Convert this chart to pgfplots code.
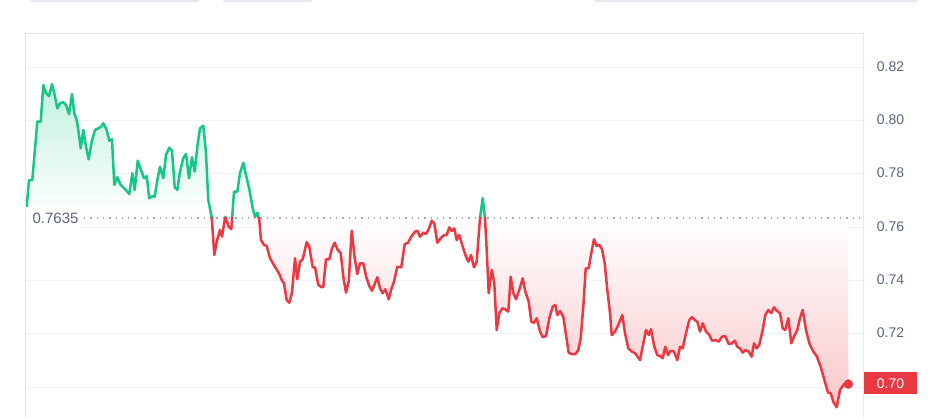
\documentclass[border=0pt]{standalone}
\usepackage{pgfplots}
\pgfplotsset{compat=1.18}
\usepackage{pgfplotstable}
\usepackage{fontspec}
\setmainfont{Liberation Sans}

\definecolor{upgreen}{RGB}{22,199,132}
\definecolor{downred}{RGB}{234,57,67}
\definecolor{labelgrey}{RGB}{88,102,126}
\definecolor{gridgrey}{RGB}{240,242,245}
\definecolor{framegrey}{RGB}{229,233,239}
\definecolor{dotgrey}{RGB}{165,170,180}

% price series
\pgfplotstableread{
x y
26.7 0.7677
29.0 0.7777
32.3 0.7777
37.3 0.7996
40.7 0.7996
43.3 0.8134
46.0 0.8103
49.0 0.8092
52.0 0.8137
54.7 0.8096
57.3 0.8046
60.0 0.8065
63.3 0.8069
66.0 0.8059
69.0 0.8024
72.0 0.8100
74.3 0.8028
76.7 0.8002
78.3 0.7965
80.7 0.7896
83.3 0.7965
86.0 0.7902
88.7 0.7855
91.7 0.7921
95.0 0.7965
98.3 0.7971
101.0 0.7977
103.3 0.7990
106.7 0.7965
109.3 0.7925
112.0 0.7930
114.3 0.7759
117.3 0.7788
120.7 0.7759
125.0 0.7743
129.3 0.7725
132.3 0.7803
134.7 0.7740
137.7 0.7850
141.0 0.7815
144.0 0.7784
146.7 0.7792
149.3 0.7709
152.7 0.7717
154.7 0.7715
157.3 0.7777
160.0 0.7827
163.3 0.7784
166.0 0.7871
169.3 0.7899
172.0 0.7887
174.7 0.7750
177.3 0.7740
180.0 0.7809
183.3 0.7859
186.0 0.7875
189.0 0.7784
192.0 0.7863
194.7 0.7809
197.3 0.7902
200.0 0.7971
203.3 0.7981
206.0 0.7878
208.3 0.7702
211.7 0.7638
214.3 0.7496
216.7 0.7546
220.0 0.7590
222.0 0.7565
225.3 0.7640
228.7 0.7602
231.3 0.7593
234.0 0.7734
237.3 0.7734
240.0 0.7803
243.3 0.7842
246.0 0.7796
249.3 0.7743
252.7 0.7671
255.0 0.7640
257.3 0.7655
259.3 0.7627
261.0 0.7552
264.0 0.7534
266.7 0.7530
270.0 0.7484
275.0 0.7452
279.3 0.7425
282.0 0.7400
284.0 0.7390
286.7 0.7327
289.3 0.7317
292.0 0.7355
295.0 0.7484
297.3 0.7405
300.0 0.7470
302.7 0.7480
306.7 0.7544
309.3 0.7527
312.7 0.7450
315.0 0.7450
318.3 0.7384
321.7 0.7375
323.3 0.7377
326.0 0.7480
329.3 0.7480
332.0 0.7521
334.7 0.7542
337.3 0.7518
340.7 0.7503
343.3 0.7415
346.0 0.7355
348.7 0.7396
351.7 0.7587
354.7 0.7484
357.3 0.7425
360.0 0.7465
363.3 0.7465
366.0 0.7417
369.3 0.7380
372.0 0.7362
375.0 0.7390
377.3 0.7413
380.0 0.7371
382.7 0.7353
385.3 0.7368
388.7 0.7330
391.3 0.7368
394.0 0.7396
397.3 0.7452
401.3 0.7450
404.7 0.7537
408.0 0.7542
411.3 0.7565
415.0 0.7584
417.3 0.7587
420.0 0.7565
423.3 0.7580
426.0 0.7575
428.7 0.7593
431.7 0.7624
434.3 0.7615
437.3 0.7542
440.7 0.7559
444.0 0.7571
446.7 0.7571
449.3 0.7600
451.7 0.7586
454.3 0.7596
456.7 0.7552
459.3 0.7571
462.7 0.7527
466.0 0.7490
468.3 0.7471
471.0 0.7496
474.0 0.7450
476.7 0.7471
480.0 0.7634
482.7 0.7709
485.0 0.7634
486.7 0.7515
488.7 0.7353
491.7 0.7440
494.3 0.7390
496.7 0.7215
499.3 0.7278
502.3 0.7296
505.0 0.7293
508.3 0.7284
510.7 0.7415
513.3 0.7353
516.0 0.7330
519.3 0.7365
522.7 0.7409
525.3 0.7359
528.7 0.7321
531.3 0.7246
534.0 0.7242
536.7 0.7259
540.0 0.7209
542.7 0.7188
546.0 0.7192
549.3 0.7259
552.7 0.7302
555.3 0.7309
557.3 0.7271
560.0 0.7286
563.3 0.7265
566.0 0.7196
568.7 0.7130
572.0 0.7124
575.3 0.7124
578.3 0.7140
580.7 0.7184
583.3 0.7302
585.7 0.7446
588.7 0.7446
591.3 0.7503
594.0 0.7555
596.7 0.7530
599.3 0.7534
602.0 0.7518
604.7 0.7465
607.3 0.7365
610.0 0.7278
611.7 0.7196
615.0 0.7209
618.3 0.7234
622.3 0.7271
625.0 0.7203
628.3 0.7146
631.7 0.7134
635.0 0.7128
640.0 0.7102
643.3 0.7165
646.0 0.7215
648.7 0.7196
651.0 0.7218
654.3 0.7152
657.3 0.7121
660.0 0.7117
662.7 0.7109
665.3 0.7152
668.0 0.7121
670.7 0.7137
674.0 0.7134
677.3 0.7102
680.0 0.7152
682.7 0.7146
686.0 0.7203
689.3 0.7252
692.0 0.7263
695.0 0.7252
697.3 0.7246
700.0 0.7209
702.7 0.7240
706.0 0.7209
709.3 0.7196
712.0 0.7175
716.0 0.7177
718.7 0.7171
722.0 0.7190
725.3 0.7192
728.7 0.7162
732.0 0.7165
734.7 0.7175
737.3 0.7152
740.0 0.7146
742.7 0.7130
745.3 0.7140
748.7 0.7134
751.7 0.7115
754.0 0.7165
756.7 0.7146
759.3 0.7159
762.7 0.7215
765.3 0.7271
768.3 0.7290
771.3 0.7278
774.0 0.7300
776.7 0.7287
780.0 0.7278
782.7 0.7221
785.3 0.7215
788.3 0.7259
791.3 0.7165
794.0 0.7190
797.3 0.7215
800.0 0.7259
802.7 0.7290
806.0 0.7215
809.3 0.7165
813.3 0.7134
816.7 0.7117
820.7 0.7077
825.3 0.7015
828.0 0.6980
830.7 0.6978
833.3 0.6946
836.7 0.6925
840.0 0.6990
844.0 0.7012
848.3 0.7012
}\pricedata

\begin{document}
\begin{tikzpicture}
    \useasboundingbox (0pt,0pt) rectangle (936pt,-418pt);

    % bits of the page header cut off at the top
    \fill[framegrey, rounded corners=1pt] (31pt,1pt) rectangle (199pt,-2pt);
    \fill[framegrey, rounded corners=1pt] (223pt,1pt) rectangle (312pt,-2pt);
    \fill[framegrey, rounded corners=1pt] (595pt,1pt) rectangle (917pt,-2pt);

    \begin{axis}[
        at={(25.5pt,-418pt)}, anchor=south west,
        scale only axis,
        width=838pt, height=385pt,
        xmin=25.5, xmax=863.5,
        ymin=0.68849, ymax=0.83286,
        xtick=\empty,
        ytick={0.72,0.74,0.76,0.78,0.80,0.82},
        extra y ticks={0.70},
        extra y tick labels={},
        extra y tick style={grid=major},
        yticklabel pos=right,
        yticklabel style={
            /pgf/number format/fixed,
            /pgf/number format/fixed zerofill,
            /pgf/number format/precision=2,
            /pgf/number format/assume math mode=true,
            font=\fontsize{14pt}{16pt}\selectfont,
            text=labelgrey, anchor=center, xshift=27pt, yshift=1pt,
        },
        major tick length=0pt,
        ymajorgrids,
        major grid style={draw=gridgrey, line width=1pt},
        axis line style={draw=none},
        clip mode=individual,
    ]
        % gradient areas between the price and the opening price (0.7635)
        \addplot[draw=none, top color=upgreen!26!white, bottom color=white,
                 y filter/.expression={max(y,0.7635)}]
            table {\pricedata}
            -- (axis cs:848.3,0.7635) -- (axis cs:26.7,0.7635) -- cycle;
        \addplot[draw=none, top color=white, bottom color=downred!28!white,
                 y filter/.expression={min(y,0.7635)}]
            table {\pricedata}
            -- (axis cs:848.3,0.7635) -- (axis cs:26.7,0.7635) -- cycle;

        % opening price
        \addplot[dotgrey, line width=1.3pt, dash pattern=on 1.3pt off 5pt]
            coordinates {(84,0.7635) (863.5,0.7635)};

        \begin{scope}
            \clip (axis cs:20,0.7635) rectangle (axis cs:870,0.84);
            \addplot[upgreen, line width=2.5pt, line join=round] table {\pricedata};
        \end{scope}
        \begin{scope}
            \clip (axis cs:20,0.68) rectangle (axis cs:870,0.7635);
            \addplot[downred, line width=2.5pt, line join=round] table {\pricedata};
        \end{scope}

        \addplot[downred, mark=*, mark size=4.5pt, only marks] coordinates {(848.3,0.7012)};

        \draw[framegrey, line width=1pt]
            (rel axis cs:0,0) -- (rel axis cs:0,1) -- (rel axis cs:1,1) -- (rel axis cs:1,0);

        \node[fill=white, rounded corners=3pt, text=labelgrey, inner xsep=4pt,
              minimum height=21pt, font=\fontsize{15pt}{17pt}\selectfont]
            at (axis cs:55.5,0.7635) {0.7635};
        \node[fill=downred, text=white, minimum width=53pt, minimum height=22pt,
              inner sep=0pt, font=\fontsize{14pt}{16pt}\selectfont]
            at (axis cs:890.5,0.7015) {0.70};
    \end{axis}
\end{tikzpicture}
\end{document}
